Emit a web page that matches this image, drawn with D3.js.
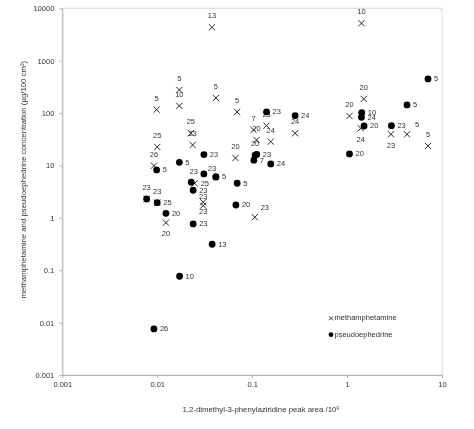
<!DOCTYPE html>
<html>
<head>
<meta charset="utf-8">
<script src="https://cdn.jsdelivr.net/npm/d3@7"></script>
<style>
  html, body { margin: 0; padding: 0; background: #fff; }
  svg { display: block; font-family: "Liberation Sans", Arial, sans-serif; will-change: transform; -webkit-font-smoothing: antialiased; }
</style>
</head>
<body>
<svg id="chart" width="474" height="429"></svg>
<script>
// ---- data ----
const xTickValues = [0.001, 0.01, 0.1, 1, 10];
const xTickLabels = ["0.001", "0.01", "0.1", "1", "10"];
const yTickValues = [0.001, 0.01, 0.1, 1, 10, 100, 1000, 10000];
const yTickLabels = ["0.001", "0.01", "0.1", "1", "10", "100", "1000", "10000"];

// methamphetamine (x marks)
const methX = [0.0377, 0.0171, 0.0171, 0.0415, 0.00986, 0.0695, 0.0226, 0.0236, 0.0100, 0.00923,
               0.0668, 0.0248, 0.0305, 0.0305, 0.00773, 0.0100, 0.01236, 0.1068, 0.1035, 0.1112,
               0.1418, 0.157, 0.2835, 1.418, 1.499, 1.06, 1.393, 2.905, 4.28, 7.12];
const methY = [4340, 276, 137, 194, 116, 105, 41.2, 24.6, 22.5, 9.9,
               13.9, 4.57, 1.99, 1.71, 2.29, 1.95, 0.81, 1.03, 47.6, 30.7,
               57.5, 28.5, 41.2, 5180, 186, 88, 51.3, 39.4, 39.4, 23.6];
const methLabel = ["13", "5", "10", "5", "5", "5", "25", "23", "25", "26",
                   "20", "25", "23", "23", "23", "23", "20", "23", "7", "20",
                   "23", "24", "24", "10", "20", "20", "24", "23", "5", "5"];
const methLabelPos = ["t", "t", "t", "t", "t", "t", "t", "t", "t", "t",
                      "t", "r", "tn", "bn", "t", "t", "b", "tr", "t", "t",
                      "t", "t", "t", "t", "t", "t", "b", "b", "tr", "t"];

// pseudoephedrine (dots)
const pseX = [7.12, 4.28, 1.428, 1.418, 1.51, 2.934, 1.06, 0.1418, 0.2835, 0.1075,
              0.1118, 0.1042, 0.157, 0.0695, 0.0674, 0.031, 0.0171, 0.00986, 0.031, 0.0415,
              0.0415, 0.0228, 0.0239, 0.00773, 0.0100, 0.01236, 0.0239, 0.0379, 0.0172, 0.00923];
const pseY = [448, 143, 101.8, 83.2, 56.7, 57.5, 16.6, 105, 89.2, 15.7,
              16.2, 12.6, 10.7, 4.57, 1.76, 16.1, 11.5, 8.2, 6.88, 6.04,
              6.04, 4.78, 3.36, 2.29, 1.95, 1.22, 0.765, 0.313, 0.0768, 0.00759];
const pseLabel = ["5", "5", "10", "24", "20", "23", "20", "23", "24", "20",
                  "23", "7", "24", "5", "20", "23", "5", "5", "23", "5",
                  "23", "", "23", "", "25", "20", "23", "13", "10", "26"];
const pseLabelPos = ["r", "r", "r", "r", "r", "r", "r", "r", "r", "t",
                     "r", "r", "r", "r", "r", "r", "r", "r", "l", "r",
                     "tl", "r", "r", "r", "r", "r", "r", "r", "r", "r"];

const seriesNames = ["methamphetamine", "pseudoephedrine"];
const xTitle = "1,2-dimethyl-3-phenylaziridine peak area /10\u2076";
const yTitle = "methamphetamine and pseudoephedrine concentration (\u00b5g/100 cm\u00b2)";

// ---- layout ----
const svg = d3.select("#chart");
const pL = 62.3, pR = 442, pT = 8.3, pB = 375;
const x = d3.scaleLog().domain([0.001, 10]).range([pL, pR]);
const y = d3.scaleLog().domain([0.001, 10000]).range([pB, pT]);

svg.append("rect").attr("width", 474).attr("height", 429).attr("fill", "#fff");

// plot border
svg.append("rect")
  .attr("x", pL).attr("y", pT)
  .attr("width", pR - pL).attr("height", pB - pT)
  .attr("fill", "none").attr("stroke", "#d9d9d9").attr("stroke-width", 1);

// axes
const xAxis = d3.axisBottom(x)
  .tickValues(xTickValues)
  .tickFormat((d, i) => xTickLabels[i])
  .tickSizeInner(3).tickSizeOuter(0).tickPadding(4);
const yAxis = d3.axisLeft(y)
  .tickValues(yTickValues)
  .tickFormat((d, i) => yTickLabels[i])
  .tickSizeInner(3).tickSizeOuter(0).tickPadding(5);

const gx = svg.append("g").attr("transform", `translate(0,${pB})`).call(xAxis);
const gy = svg.append("g").attr("transform", `translate(${pL},0)`).call(yAxis);
[gx, gy].forEach(g => {
  g.select(".domain").attr("stroke", "#b3b3b3");
  g.selectAll(".tick line").attr("stroke", "#b3b3b3");
  g.selectAll(".tick text").attr("fill", "#333").style("font-size", "7.5px")
    .style("font-family", "'Liberation Sans', Arial, sans-serif");
});

// axis titles
svg.append("text")
  .attr("x", 261).attr("y", 410)
  .attr("text-anchor", "middle").attr("dominant-baseline", "middle")
  .attr("fill", "#333").style("font-size", "7.8px")
  .text(xTitle);
svg.append("text")
  .attr("transform", `translate(24,${(pT + pB) / 2 - 12}) rotate(-90)`)
  .attr("text-anchor", "middle").attr("dominant-baseline", "middle")
  .attr("fill", "#333").style("font-size", "7.8px")
  .text(yTitle);

// label offsets by position code
const off = {
  t: [0, -11, "middle"], b: [0, 11.5, "middle"], r: [6, 0.5, "start"],
  l: [-6, -1.5, "end"], tr: [10, -9, "middle"], tl: [-4, -7.5, "middle"],
  tn: [0, -5.5, "middle"], bn: [0, 6.5, "middle"]
};

function label(g, xs, ys, labs, pos) {
  g.selectAll("text.lab").data(xs).join("text")
    .attr("class", "lab")
    .attr("x", (d, i) => x(d) + off[pos[i]][0])
    .attr("y", (d, i) => y(ys[i]) + off[pos[i]][1])
    .attr("text-anchor", (d, i) => off[pos[i]][2])
    .attr("dominant-baseline", "middle")
    .attr("fill", "#333").style("font-size", "7.5px")
    .text((d, i) => labs[i]);
}

const xMark = s => `M${-s},${-s}L${s},${s}M${-s},${s}L${s},${-s}`;

// methamphetamine
const gm = svg.append("g");
gm.selectAll("path").data(methX).join("path")
  .attr("transform", (d, i) => `translate(${x(d)},${y(methY[i])})`)
  .attr("d", xMark(3.1))
  .attr("stroke", "#111").attr("stroke-width", 0.9).attr("fill", "none");
label(gm, methX, methY, methLabel, methLabelPos);

// pseudoephedrine
const gp = svg.append("g");
gp.selectAll("circle").data(pseX).join("circle")
  .attr("cx", d => x(d)).attr("cy", (d, i) => y(pseY[i]))
  .attr("r", 3.4).attr("fill", "#000");
label(gp, pseX, pseY, pseLabel, pseLabelPos);

// legend
const lg = svg.append("g");
const legY = [318.3, 334.7];
lg.append("path").attr("transform", `translate(331,${legY[0]})`)
  .attr("d", xMark(2)).attr("stroke", "#111").attr("stroke-width", 0.8);
lg.append("circle").attr("cx", 331).attr("cy", legY[1]).attr("r", 2.4).attr("fill", "#000");
lg.selectAll("text").data(seriesNames).join("text")
  .attr("x", 334.5).attr("y", (d, i) => legY[i])
  .attr("dominant-baseline", "middle")
  .attr("fill", "#333").style("font-size", "7.5px")
  .text(d => d);
</script>
</body>
</html>
